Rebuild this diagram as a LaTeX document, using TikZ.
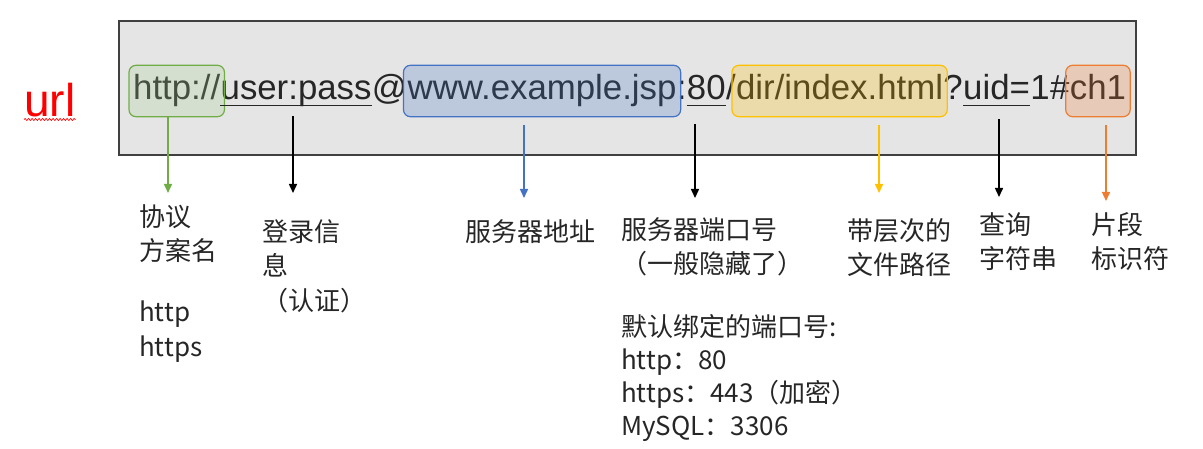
\documentclass[tikz,border=0pt]{standalone}
\usepackage{fontspec}
\setmainfont{Noto Sans CJK SC}
\newfontfamily\urlfont{Liberation Sans}
\usepackage{xcolor}
\usepackage{tikz}
\usetikzlibrary{
    arrows.meta,
    positioning,
    fit,
    decorations.pathmorphing
}
\definecolor{txt}{HTML}{262626}
\definecolor{urlbg}{HTML}{E5E5E5}
\definecolor{urlframe}{HTML}{404040}
\definecolor{grn}{HTML}{70AD47}
\definecolor{grnfill}{HTML}{A9D18E}
\definecolor{blu}{HTML}{4472C4}
\definecolor{ylw}{HTML}{FFC000}
\definecolor{org}{HTML}{ED7D31}
\tikzset{
    seg/.style={inner sep=0pt, text height=25pt, text depth=7pt, text=txt,
        font=\urlfont\fontsize{34.8}{40}\selectfont},
    hl/.style 2 args={rounded corners=7pt, line width=1.2pt, draw=#1, fill=#2,
        fill opacity=0.25, inner xsep=4pt, inner ysep=9.5pt},
    lbl/.style={inner sep=0pt, anchor=north west, align=left, text=txt,
        font=\fontsize{26}{34.5}\selectfont},
    arr/.style={-{Triangle[length=9pt,width=8pt]}, line width=1.5pt, draw=#1},
    uline/.style={line width=1.2pt, draw=txt}
}

\begin{document}
\begin{tikzpicture}[x=1pt, y=-1pt]
        \useasboundingbox (0,0) rectangle (1203,449);
        \draw[fill=urlbg, draw=urlframe, line width=1.2pt] (119,21) rectangle (1136,155);

        \draw (24,117) node[anchor=base west, inner sep=0pt, text=red,
            font=\urlfont\fontsize{46}{50}\selectfont](urllbl){url};
        \draw[red, line width=0.7pt, decorate, decoration={snake, amplitude=1pt, segment length=3.5pt}]
            ([yshift=-2.5pt]urllbl.base west) -- ([yshift=-2.5pt]urllbl.base east);

        % the url, piece by piece
        \draw (133,100) node[seg, anchor=base west](proto){http://};
        \node[seg, right=0pt of proto](login){user:pass};
        \node[seg, right=0pt of login](at){@};
        \node[seg, right=0pt of at](host){www.example.jsp};
        \node[seg, right=0pt of host](colon){:};
        \node[seg, right=0pt of colon](port){80};
        \node[seg, right=0pt of port](slash){/};
        \node[seg, right=0pt of slash](path){dir/index.html};
        \node[seg, right=0pt of path](qmark){?};
        \node[seg, right=0pt of qmark](query){uid=};
        \node[seg, right=0pt of query](one){1};
        \node[seg, right=0pt of one](hash){\#};
        \node[seg, right=0pt of hash](frag){ch1};

        \node[hl={grn}{grnfill}, fit=(proto)](hlproto){};
        \node[hl={blu}{blu}, fit=(host)](hlhost){};
        \node[hl={ylw}{ylw}, fit=(path)](hlpath){};
        \node[hl={org}{org}, fit=(frag)](hlfrag){};

        \draw[uline] ([yshift=2pt]login.south west) -- ([yshift=2pt]login.south east);
        \draw[uline] ([yshift=2pt]port.south west) -- ([yshift=2pt]port.south east);
        \draw[uline] ([yshift=2pt]query.south west) -- ([yshift=2pt]query.south east);

        % labels
        \draw (139,204) node[lbl](lproto){协议\\方案名};
        \draw (139,301) node[lbl](lschemes){http\\https};
        \draw (262,219) node[lbl](llogin){登录信\\息\\（认证）};
        \draw (465,219) node[lbl](lhost){服务器地址};
        \draw (621,217) node[lbl](lport){服务器端口号\\（一般隐藏了）};
        \draw (621,314) node[lbl, font=\fontsize{26}{33}\selectfont](ldefault)
            {默认绑定的端口号:\\http：80\\https：443（加密）\\MySQL：3306};
        \draw (847,218) node[lbl](lpath){带层次的\\文件路径};
        \draw (979,212) node[lbl](lquery){查询\\字符串};
        \draw (1091,212) node[lbl](lfrag){片段\\标识符};

        % arrows
        \coordinate (tproto) at (168,193);
        \coordinate (tlogin) at (293,193);
        \coordinate (thost) at (524,198);
        \coordinate (tport) at (695,198);
        \coordinate (tpath) at (879,193);
        \coordinate (tquery) at (999,197);
        \coordinate (tfrag) at (1106,201);
        \draw[arr=grn] (tproto |- hlproto.south) -- (tproto);
        \draw[arr=black] ([yshift=-9pt]tlogin |- login.south) -- (tlogin);
        \draw[arr=blu] ([yshift=-7.5pt]thost |- hlhost.south) -- (thost);
        \draw[arr=black] ([yshift=-17pt]tport |- port.south) -- (tport);
        \draw[arr=ylw] ([yshift=-7.5pt]tpath |- hlpath.south) -- (tpath);
        \draw[arr=black] ([yshift=-12pt]tquery |- query.south) -- (tquery);
        \draw[arr=org] ([yshift=-7.5pt]tfrag |- hlfrag.south) -- (tfrag);
    \end{tikzpicture}
\end{document}
